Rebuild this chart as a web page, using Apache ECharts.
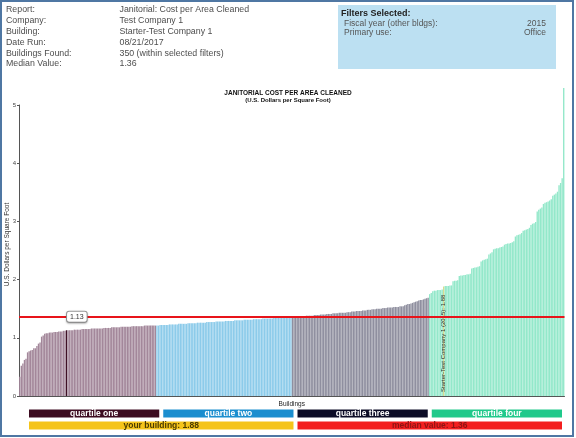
<!DOCTYPE html>
<html>
<head>
<meta charset="utf-8">
<script src="https://cdn.jsdelivr.net/npm/echarts@6/dist/echarts.min.js"></script>
<style>
  html, body { margin: 0; padding: 0; background: #fff; }
  #chart { width: 576px; height: 438px; }
</style>
</head>
<body>
<div id="chart"></div>
<script>
// report header
var reportLabels = ['Report:', 'Company:', 'Building:', 'Date Run:', 'Buildings Found:', 'Median Value:'];
var reportValues = ['Janitorial: Cost per Area Cleaned', 'Test Company 1', 'Starter-Test Company 1', '08/21/2017', '350 (within selected filters)', '1.36'];
var filterLabels = ['Fiscal year (other bldgs):', 'Primary use:'];
var filterValues = ['2015', 'Office'];

// sorted cost per sq ft, one array per quartile
var quartileOne = [
  0.33, 0.52, 0.56, 0.62, 0.64, 0.75, 0.77, 0.78, 0.79, 0.82,
  0.82, 0.86, 0.90, 0.92, 1.02, 1.04, 1.07, 1.08, 1.08, 1.09,
  1.09, 1.09, 1.10, 1.10, 1.10, 1.11, 1.11, 1.11, 1.12, 1.12,
  1.13, 1.13, 1.13, 1.13, 1.13, 1.14, 1.14, 1.14, 1.14, 1.14,
  1.15, 1.15, 1.15, 1.15, 1.15, 1.15, 1.16, 1.16, 1.16, 1.16,
  1.16, 1.16, 1.16, 1.16, 1.17, 1.17, 1.17, 1.17, 1.17, 1.18,
  1.18, 1.18, 1.18, 1.18, 1.18, 1.19, 1.19, 1.19, 1.19, 1.19,
  1.19, 1.19, 1.20, 1.20, 1.20, 1.20, 1.20, 1.20, 1.20, 1.20,
  1.21, 1.21, 1.21, 1.21, 1.21, 1.21, 1.21, 1.21
];
var quartileTwo = [
  1.21, 1.21, 1.22, 1.22, 1.22, 1.22, 1.22, 1.22, 1.23, 1.23,
  1.23, 1.23, 1.23, 1.23, 1.24, 1.24, 1.24, 1.24, 1.24, 1.24,
  1.25, 1.25, 1.25, 1.25, 1.25, 1.25, 1.26, 1.26, 1.26, 1.26,
  1.26, 1.26, 1.27, 1.27, 1.27, 1.27, 1.27, 1.27, 1.28, 1.28,
  1.28, 1.28, 1.28, 1.28, 1.29, 1.29, 1.29, 1.29, 1.29, 1.29,
  1.30, 1.30, 1.30, 1.30, 1.30, 1.30, 1.31, 1.31, 1.31, 1.31,
  1.31, 1.31, 1.32, 1.32, 1.32, 1.32, 1.32, 1.32, 1.33, 1.33,
  1.33, 1.33, 1.33, 1.33, 1.33, 1.34, 1.34, 1.34, 1.34, 1.34,
  1.34, 1.34, 1.35, 1.35, 1.35, 1.35, 1.35
];
var quartileThree = [
  1.35, 1.36, 1.36, 1.36, 1.36, 1.37, 1.37, 1.37, 1.37, 1.38,
  1.38, 1.38, 1.38, 1.38, 1.39, 1.39, 1.39, 1.39, 1.40, 1.40,
  1.40, 1.40, 1.41, 1.41, 1.41, 1.41, 1.42, 1.42, 1.42, 1.42,
  1.43, 1.43, 1.43, 1.43, 1.43, 1.44, 1.44, 1.44, 1.45, 1.45,
  1.45, 1.46, 1.46, 1.46, 1.46, 1.47, 1.47, 1.47, 1.48, 1.48,
  1.48, 1.49, 1.49, 1.49, 1.50, 1.50, 1.50, 1.50, 1.51, 1.51,
  1.51, 1.52, 1.52, 1.52, 1.52, 1.53, 1.53, 1.53, 1.53, 1.54,
  1.54, 1.54, 1.56, 1.57, 1.58, 1.58, 1.59, 1.60, 1.61, 1.62,
  1.63, 1.64, 1.65, 1.65, 1.66, 1.67, 1.68, 1.69
];
var quartileFour = [
  1.75, 1.77, 1.80, 1.81, 1.81, 1.82, 1.82, 1.82, 1.83, 1.88,
  1.89, 1.89, 1.89, 1.90, 1.90, 1.97, 1.98, 1.98, 1.99, 2.06,
  2.07, 2.07, 2.08, 2.08, 2.09, 2.09, 2.10, 2.19, 2.20, 2.21,
  2.21, 2.22, 2.23, 2.31, 2.33, 2.34, 2.35, 2.36, 2.43, 2.45,
  2.47, 2.52, 2.53, 2.54, 2.54, 2.55, 2.56, 2.57, 2.60, 2.61,
  2.62, 2.62, 2.63, 2.64, 2.66, 2.74, 2.76, 2.77, 2.78, 2.80,
  2.84, 2.85, 2.86, 2.87, 2.89, 2.94, 2.96, 2.97, 2.99, 3.17,
  3.20, 3.22, 3.24, 3.30, 3.32, 3.33, 3.34, 3.36, 3.38, 3.44,
  3.46, 3.48, 3.51, 3.62, 3.66, 3.74, 5.29
];

var yourBuildingIndex = 272;   // Starter-Test Company 1
var markedIndex = 30;          // building shown with the 1.13 tag
var yourBuildingLabel = 'Starter-Test Company 1 (2015): 1.88';
var yourValue = 1.88;
var medianValue = 1.36;
var quartileNames = ['quartile one', 'quartile two', 'quartile three', 'quartile four'];

var barColors = ['#a3879a', '#8ccbea', '#8f8f9f', '#93e8ca'];
var bandColors = ['#3c0b20', '#1b8ecf', '#0c0c26', '#20c98b'];
var font = '"Liberation Sans", Arial, sans-serif';

var quartiles = [quartileOne, quartileTwo, quartileThree, quartileFour];
var values = [], quartileOf = [];
quartiles.forEach(function (q, qi) {
  q.forEach(function (v) { values.push(v); quartileOf.push(qi); });
});
var buildings = values.map(function (v, i) { return 'B' + (i + 1); });

var barData = values.map(function (v, i) {
  var item = { value: v };
  if (i === yourBuildingIndex) {
    item.itemStyle = { color: '#d5dc8e' };
    item.label = {
      show: true, position: 'insideBottom', rotate: 90, distance: 4,
      align: 'left', verticalAlign: 'middle',
      formatter: yourBuildingLabel, fontSize: 6, fontFamily: font, color: '#333'
    };
  } else if (i === markedIndex) {
    item.itemStyle = { color: '#3d0f24' };
  }
  return item;
});

// header graphics
var graphics = [
  { type: 'rect', shape: { x: 1, y: 1, width: 572, height: 435 },
    style: { fill: 'none', stroke: '#4f77a3', lineWidth: 2 }, silent: true },
  { type: 'rect', shape: { x: 338, y: 5, width: 218, height: 64 },
    style: { fill: '#bce0f2' }, silent: true },
  { type: 'text', x: 341, y: 13.5,
    style: { text: 'Filters Selected:', font: 'bold 9px ' + font, fill: '#222', textVerticalAlign: 'middle' } }
];
reportLabels.forEach(function (t, i) {
  var y = 10 + i * 10.8;
  graphics.push({ type: 'text', x: 6, y: y,
    style: { text: t, font: '8.8px ' + font, fill: '#4d4d4d', textVerticalAlign: 'middle' } });
  graphics.push({ type: 'text', x: 119.5, y: y,
    style: { text: reportValues[i], font: '8.8px ' + font, fill: '#4d4d4d', textVerticalAlign: 'middle' } });
});
filterLabels.forEach(function (t, i) {
  var y = 24 + i * 8.8;
  graphics.push({ type: 'text', x: 344, y: y,
    style: { text: t, font: '8.5px ' + font, fill: '#555', textVerticalAlign: 'middle' } });
  graphics.push({ type: 'text', x: 546, y: y,
    style: { text: filterValues[i], font: '8.5px ' + font, fill: '#555', textAlign: 'right', textVerticalAlign: 'middle' } });
});

// quartile / marker bands under the chart
var rowTwo = [
  { value: 2, color: '#f5c41a', text: 'your building: ' + yourValue, textColor: '#4a3b00' },
  null,
  { value: 2, color: '#f31e1e', text: 'median value: ' + medianValue, textColor: '#8c1414' },
  null
];
var bandSeries = quartileNames.map(function (name, i) {
  var data = [{
    value: 1,
    itemStyle: { color: bandColors[i] },
    label: { show: true, formatter: name, color: '#fff' }
  }];
  if (rowTwo[i]) {
    data.push({
      value: rowTwo[i].value,
      itemStyle: { color: rowTwo[i].color },
      label: { show: true, formatter: rowTwo[i].text, color: rowTwo[i].textColor }
    });
  } else {
    data.push('-');
  }
  return {
    type: 'bar', xAxisIndex: 1, yAxisIndex: 1, stack: 'band',
    barCategoryGap: 0, silent: true,
    itemStyle: { borderColor: '#fff', borderWidth: 2 },
    label: { position: 'inside', fontSize: 8.5, fontWeight: 'bold', fontFamily: font, lineHeight: 10 },
    data: data
  };
});

var chart = echarts.init(document.getElementById('chart'), null, { renderer: 'canvas' });
chart.setOption({
  animation: false,
  title: {
    text: 'JANITORIAL COST PER AREA CLEANED',
    subtext: '(U.S. Dollars per Square Foot)',
    left: 'center', top: 89.5, padding: 0, itemGap: 1,
    textStyle: { fontSize: 6.5, fontWeight: 'bold', color: '#111', fontFamily: font },
    subtextStyle: { fontSize: 6, fontWeight: 'bold', color: '#111', fontFamily: font }
  },
  graphic: graphics,
  grid: [
    { left: 19, right: 11.5, top: 105, bottom: 42, containLabel: false, outerBoundsMode: 'none' },
    { left: 27, right: 12, top: 407.5, height: 24, containLabel: false, outerBoundsMode: 'none' }
  ],
  xAxis: [
    {
      type: 'category', data: buildings,
      name: 'Buildings', nameLocation: 'middle', nameGap: 4.5, nameMoveOverlap: false,
      nameTextStyle: { fontSize: 6.5, color: '#222', fontFamily: font },
      axisLine: { lineStyle: { color: '#555', width: 1 } },
      axisTick: { show: false }, axisLabel: { show: false }
    },
    { gridIndex: 1, type: 'value', min: 0, max: 4, show: false }
  ],
  yAxis: [
    {
      type: 'value', min: 0, max: 5, interval: 1,
      name: 'U.S. Dollars per Square Foot', nameLocation: 'middle', nameGap: 8, nameMoveOverlap: false,
      nameTextStyle: { fontSize: 6.5, color: '#333', fontFamily: font, padding: [0, 0, 0, 12] },
      axisLine: { show: true, lineStyle: { color: '#555', width: 1 } },
      axisTick: { show: true, length: 2, lineStyle: { color: '#555' } },
      axisLabel: { fontSize: 6, color: '#444', margin: 3, fontFamily: font },
      splitLine: { show: false }
    },
    { gridIndex: 1, type: 'category', data: ['quartiles', 'markers'], inverse: true, show: false }
  ],
  series: [
    {
      type: 'bar', data: barData, clip: false, barCategoryGap: '12%',
      itemStyle: {
        color: function (p) { return barColors[quartileOf[p.dataIndex]]; }
      },
      markLine: {
        silent: true, symbol: 'none',
        label: { show: false },
        lineStyle: { color: '#e8141a', width: 2, type: 'solid' },
        data: [{ yAxis: medianValue }]
      },
      markPoint: {
        silent: true,
        symbol: 'rect', symbolSize: [1, 1],
        itemStyle: { color: 'rgba(0,0,0,0)' },
        label: {
          show: true, position: 'right', distance: 0,
          formatter: function (p) { return p.value.toFixed(2); },
          fontSize: 7, color: '#333', fontFamily: font,
          backgroundColor: '#fff', borderColor: '#9a9a9a', borderWidth: 1, borderRadius: 2,
          padding: [2, 3, 1, 3],
          shadowColor: 'rgba(0,0,0,0.25)', shadowBlur: 2, shadowOffsetY: 1
        },
        data: [{ coord: [markedIndex, medianValue], value: values[markedIndex] }]
      }
    }
  ].concat(bandSeries)
});
</script>
</body>
</html>
